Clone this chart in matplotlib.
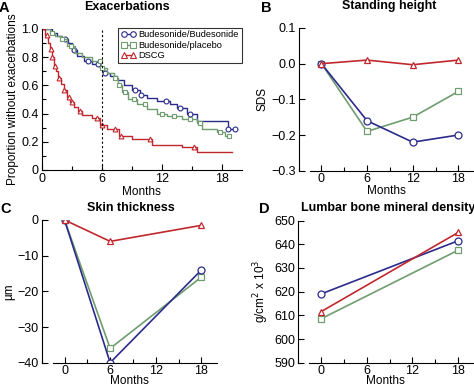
import numpy as np
import matplotlib
matplotlib.use("Agg")
from matplotlib import pyplot as plt
from matplotlib.ticker import MultipleLocator

plt.rcParams['font.family'] = ['Liberation Sans', 'DejaVu Sans']
plt.rcParams['font.size'] = 8.5

BLUE = '#2b2b8c'
GREEN = '#6f9d6f'
RED = '#c0282e'
groups = ['Budesonide/Budesonide', 'Budesonide/placebo', 'DSCG']

# A: Kaplan-Meier steps (months, proportion without exacerbations)
bb_t = [0, 1.0, 1.5, 2.0, 2.6, 3.0, 3.5, 4.2, 5.0, 5.8, 6.2, 6.8, 7.5, 8.2, 9.0, 9.8,
        10.5, 11.5, 12.8, 13.5, 14.5, 15.5, 18.6, 19.3]
bb_s = [1.0, 0.97, 0.95, 0.93, 0.90, 0.85, 0.81, 0.77, 0.75, 0.72, 0.69, 0.67, 0.64, 0.60,
        0.57, 0.53, 0.51, 0.49, 0.47, 0.44, 0.40, 0.35, 0.29, 0.29]
bb_cens = [2.3, 3.2, 4.6, 5.6, 6.3, 9.3, 9.9, 12.4, 13.8, 14.8, 18.6, 19.3]

bp_t = [0, 0.8, 1.3, 2.0, 2.5, 3.3, 4.0, 5.0, 5.9, 6.5, 7.2, 7.6, 8.0, 8.6, 9.5, 10.5,
        11.5, 12.5, 14.0, 15.5, 16.0, 17.5, 18.3, 18.7]
bp_s = [1.0, 0.97, 0.95, 0.93, 0.88, 0.83, 0.80, 0.77, 0.72, 0.69, 0.65, 0.60, 0.55, 0.50,
        0.47, 0.43, 0.40, 0.38, 0.36, 0.33, 0.29, 0.27, 0.24, 0.24]
bp_cens = [1.0, 2.0, 2.9, 5.8, 6.0, 7.35, 7.7, 8.3, 9.2, 10.3, 12.0, 13.2, 14.8, 15.8, 17.8, 18.7]

ds_t = [0, 0.3, 0.6, 0.8, 1.0, 1.2, 1.4, 1.6, 1.9, 2.2, 2.5, 2.8, 3.2, 3.6, 4.0, 5.0,
        5.8, 6.5, 7.7, 9.0, 11.0, 14.0, 15.5, 19.0]
ds_s = [1.0, 0.96, 0.90, 0.86, 0.80, 0.74, 0.70, 0.65, 0.61, 0.57, 0.52, 0.48, 0.45, 0.42,
        0.39, 0.37, 0.32, 0.29, 0.24, 0.22, 0.18, 0.16, 0.13, 0.13]
ds_cens = [0.5, 0.9, 1.0, 1.3, 1.7, 2.2, 2.7, 3.0, 3.8, 5.5, 6.0, 7.3, 7.9, 10.8, 15.2]

# B-D: group means by visit
months = [0, 6, 12, 18]
height_bb = [0, -0.16, -0.22, -0.20]
height_bp = [0, -0.19, -0.15, -0.078]
height_ds = [0, 0.01, -0.003, 0.01]

skin_months = [0, 6, 18]
skin_bb = [0, -40, -14]
skin_bp = [0, -36, -16]
skin_ds = [0, -6, -1.5]

bmd_months = [0, 18]
bmd_bb = [619, 641.5]
bmd_bp = [608.5, 637.5]
bmd_ds = [611.5, 645]

fig = plt.figure(figsize=(4.74, 3.86), dpi=100)

def style(ax):
    for s in ['top', 'right']:
        ax.spines[s].set_visible(False)
    ax.tick_params(direction='in', length=4, width=0.8, pad=2, labelsize=9)
    ax.tick_params(which='minor', direction='in', length=3, width=0.8)
    ax.xaxis.set_major_locator(MultipleLocator(6))
    ax.xaxis.set_minor_locator(MultipleLocator(3))

# panel A
ax = fig.add_axes([0.088, 0.5596, 0.422, 0.3653])
style(ax)
for t, s, c, col, m, lab in [(bb_t, bb_s, bb_cens, BLUE, 'o', groups[0]),
                             (bp_t, bp_s, bp_cens, GREEN, 's', groups[1]),
                             (ds_t, ds_s, ds_cens, RED, '^', groups[2])]:
    ax.step(t, s, where='post', color=col, lw=1.0)
    idx = np.searchsorted(t, c, side='right') - 1
    cy = np.array(s)[idx]
    ax.plot(c, cy, ls='none', marker=m, ms=3.5, mfc='white', mec=col, mew=0.8)
    ax.plot([], [], color=col, lw=1.0, marker=m, ms=4, mfc='white', mec=col, mew=0.8, label=lab)
ax.axvline(6, color='black', ls=(0, (2, 2)), lw=0.8)
ax.set_xlim(0, 20)
ax.set_ylim(0, 1.0)
ax.yaxis.set_major_locator(MultipleLocator(0.2))
ax.yaxis.set_minor_locator(MultipleLocator(0.1))
ax.yaxis.set_major_formatter(plt.FuncFormatter(lambda v, p: '0' if v == 0 else f'{v:.1f}'))
ax.set_xlabel('Months', labelpad=1)
ax.set_ylabel('Proportion without exacerbations', labelpad=2)
leg = ax.legend(loc='upper right', fontsize=6.7, numpoints=2, handlelength=1.6,
                handletextpad=0.3, labelspacing=0.15, borderpad=0.3, borderaxespad=0.0,
                frameon=True, fancybox=False, edgecolor='black',
                bbox_to_anchor=(1.0, 1.01))
leg.get_frame().set_linewidth(0.8)

def small_panel(rect, xs, series, ylim, ystep, ylabel, xpad):
    ax = fig.add_axes(rect)
    style(ax)
    for ys, col, m in series:
        ax.plot(xs, ys, color=col, lw=1.2, marker=m, ms=5, mfc='white', mec=col, mew=0.9)
    ax.set_xlim(-3, 20)
    ax.set_ylim(*ylim)
    ax.spines['bottom'].set_bounds(-1.5, 20)
    ax.yaxis.set_major_locator(MultipleLocator(ystep))
    ax.set_xlabel('Months', labelpad=xpad)
    ax.set_ylabel(ylabel, labelpad=2)
    return ax

small_panel([0.630, 0.5578, 0.369, 0.3697], months,
            [(height_bp, GREEN, 's'), (height_bb, BLUE, 'o'), (height_ds, RED, '^')],
            (-0.3, 0.1), 0.1, 'SDS', 0)
small_panel([0.088, 0.0604, 0.369, 0.3697], skin_months,
            [(skin_bp, GREEN, 's'), (skin_bb, BLUE, 'o'), (skin_ds, RED, '^')],
            (-40, 0), 10, 'µm', -1.5)
small_panel([0.6287, 0.0604, 0.370, 0.368], bmd_months,
            [(bmd_bp, GREEN, 's'), (bmd_bb, BLUE, 'o'), (bmd_ds, RED, '^')],
            (590, 650), 10, 'g/cm$^2$ x 10$^3$', -1.5)

# titles and panel letters, placed in figure pixels
for x, y, s in [(127, 7, 'Exacerbations'), (389, 6, 'Standing height'),
                (131, 208, 'Skin thickness'), (388, 208, 'Lumbar bone mineral density')]:
    fig.text(x / 474, 1 - y / 386, s, fontsize=9, fontweight='bold', ha='center', va='center')
for x, y, s in [(-1, 1, 'A'), (261, 1, 'B'), (0, 202, 'C'), (259, 202, 'D')]:
    fig.text(x / 474, 1 - y / 386, s, fontsize=10.5, fontweight='bold', va='top', ha='left')

fig.savefig('out.png', dpi=100)
